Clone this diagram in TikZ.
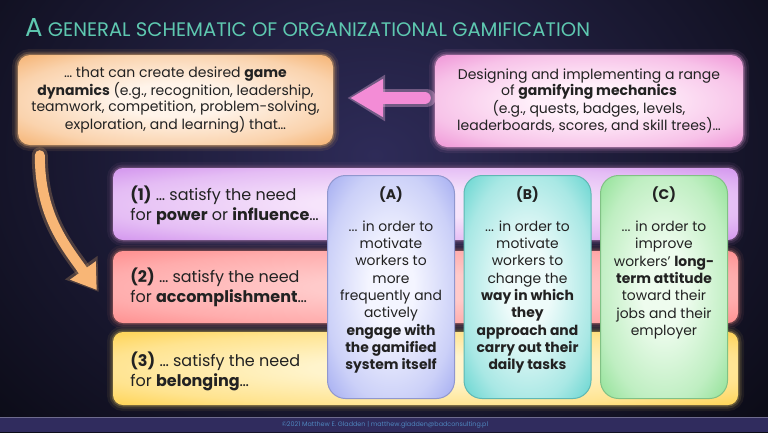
\documentclass[tikz,border=0pt]{standalone}
\usepackage{fontspec}
\setmainfont{Poppins}
\usetikzlibrary{arrows.meta,calc}
\definecolor{bgin}{HTML}{2E2B58}
\definecolor{bgout}{HTML}{0B0B16}
\definecolor{footbg}{HTML}{302C5E}
\definecolor{foottxt}{HTML}{4F86BE}
\definecolor{titlec}{HTML}{5EC8B0}
\definecolor{txt}{HTML}{222222}
\definecolor{orin}{HTML}{FFF4EA}
\definecolor{orout}{HTML}{F6B87C}
\definecolor{orglow}{HTML}{A07A58}
\definecolor{pkin}{HTML}{FFF0FA}
\definecolor{pkout}{HTML}{F19DDA}
\definecolor{pkglow}{HTML}{9A6A98}
\definecolor{pkarrow}{HTML}{F38CD6}
\definecolor{arrorange}{HTML}{F8B676}
\definecolor{puin}{HTML}{F6E4FB}
\definecolor{puout}{HTML}{D69CEF}
\definecolor{puglow}{HTML}{6E4E78}
\definecolor{rdin}{HTML}{FFCACA}
\definecolor{rdout}{HTML}{FF9494}
\definecolor{rdglow}{HTML}{7A4A4E}
\definecolor{ylin}{HTML}{FFF4CC}
\definecolor{ylout}{HTML}{FFD65E}
\definecolor{ylglow}{HTML}{7A6A40}
\definecolor{ain}{HTML}{F4F5FF}
\definecolor{aout}{HTML}{AAB2F2}
\definecolor{bin}{HTML}{EEFBFA}
\definecolor{bout}{HTML}{70D8D3}
\definecolor{cin}{HTML}{EEFCEE}
\definecolor{cout}{HTML}{98E39D}
\colorlet{sin}{white}
\colorlet{sout}{gray}
\pgfdeclareradialshading[sin,sout]{softrad}{\pgfpoint{0bp}{0bp}}{color(0bp)=(sin); color(9bp)=(sin); color(26bp)=(sin!45!sout); color(34bp)=(sout); color(50bp)=(sout)}
\tikzset{
  soft/.style 2 args={/utils/exec={\colorlet{sin}{#1}\colorlet{sout}{#2}}, shading=softrad},
  glow/.style={preaction={draw=#1, line width=12pt, opacity=.15},
               preaction={draw=#1, line width=7pt, opacity=.3},
               preaction={draw=#1, line width=3pt, opacity=.7}},
  topbox/.style={rounded corners=12pt, inner sep=0pt},
  band/.style={rounded corners=10pt, inner sep=0pt, minimum width=625pt, minimum height=72pt},
  column/.style={rounded corners=18pt, inner sep=0pt, minimum width=127pt, minimum height=223pt, draw=#1, line width=1pt},
  toptext/.style={align=center, text=txt, font=\fontsize{14}{14.4}\selectfont},
  bandtext/.style={align=left, text=txt, anchor=west, font=\fontsize{16}{20}\selectfont},
  coltext/.style={align=center, text=txt, font=\fontsize{13.9}{17.3}\selectfont},
  collabel/.style={text=txt, font=\fontsize{14}{15}\selectfont\bfseries},
}
\begin{document}
\begin{tikzpicture}[x=1pt,y=-1pt]
\useasboundingbox (0,0) rectangle (768,432);
\shade[inner color=bgin, outer color=bgout] (-150,-250) rectangle (900,560);
\fill[footbg] (0,417) rectangle (768,432);
\draw[footbg!70!white, line width=0.6pt] (0,417) -- (768,417);
\node[anchor=center, text=foottxt, font=\fontsize{6.4}{7}\selectfont] (footer) at (385,425) {©2021 Matthew E. Gladden | matthew.gladden@badconsulting.pl};

% title
\node[anchor=base west, text=titlec, inner sep=0pt] (title) at (25,36)
  {\fontsize{26}{28}\selectfont A\fontsize{19.6}{22}\selectfont\ GENERAL SCHEMATIC OF ORGANIZATIONAL GAMIFICATION};

% top boxes
\node[topbox, glow=orglow, soft={orin}{orout}, minimum width=315pt, minimum height=90pt] (orange) at (175.5,100) {};
\node[toptext] (orangetxt) at (orange.center) {… that can create desired \textbf{game}\\\textbf{dynamics} (e.g., recognition, leadership,\\teamwork, competition, problem-solving,\\exploration, and learning) that…};

\node[topbox, glow=pkglow, soft={pkin}{pkout}, minimum width=308pt, minimum height=92pt] (pink) at (589,101) {};
\node[toptext] (pinktxt) at (pink.center) {Designing and implementing a range\\of \textbf{gamifying mechanics}\\(e.g., quests, badges, levels,\\leaderboards, scores, and skill trees)…};

% pink arrow
\coordinate (pa1) at ($(pink.west)+(-10,-3)$);
\coordinate (pa2) at ($(orange.east)+(17,-2)$);
\draw[pkarrow!60!white, opacity=.35, line width=18pt, line cap=round, -{Triangle[width=44pt,length=38pt]}] ($(pa1)+(2,0)$) -- ($(pa2)+(-3,0)$);
\draw[pkarrow, line width=12pt, line cap=round, -{Triangle[width=36pt,length=33pt]}] (pa1) -- (pa2);

% bands
\node[band, glow=puglow, soft={puin}{puout}] (band1) at (425.5,204) {};
\node[band, glow=rdglow, soft={rdin}{rdout}] (band2) at (425.5,287) {};
\node[band, glow=ylglow, soft={ylin}{ylout}, minimum height=73pt] (band3) at (425.5,368.5) {};
\node[bandtext] (b1txt) at ($(band1.west)+(14,1)$) {\textbf{(1)} … satisfy the need\\for \textbf{power} or \textbf{influence}…};
\node[bandtext] (b2txt) at ($(band2.west)+(14,0)$) {\textbf{(2)} … satisfy the need\\for \textbf{accomplishment}…};
\node[bandtext] (b3txt) at ($(band3.west)+(14,2.5)$) {\textbf{(3)} … satisfy the need\\for \textbf{belonging}…};

% orange curved arrow
\coordinate (ca1) at ($(orange.south west)+(22,10)$);
\coordinate (ca2) at ($(band2.west)+(-16,3)$);
\draw[orglow, opacity=.4, line width=16pt, line cap=round, -{Triangle[width=38pt,length=30pt]}] (ca1) .. controls ($(ca1)+(0,60)$) and ($(ca2)+(-32,-45)$) .. ($(ca2)+(2,2)$);
\draw[arrorange, line width=10pt, line cap=round, -{Triangle[width=30pt,length=24pt]}] (ca1) .. controls ($(ca1)+(0,60)$) and ($(ca2)+(-32,-45)$) .. (ca2);

% columns
\node[column=aout!85!black, soft={ain}{aout}] (colA) at (391,287) {};
\node[column=bout!85!black, soft={bin}{bout}] (colB) at (527.5,287) {};
\node[column=cout!85!black, soft={cin}{cout}] (colC) at (664,287) {};

\node[collabel] (labA) at ($(colA.north)+(0,20)$) {(A)};
\node[collabel] (labB) at ($(colB.north)+(0,20)$) {(B)};
\node[collabel] (labC) at ($(colC.north)+(0,20)$) {(C)};

\node[coltext] (txtA) at (391,297) {... in order to\\motivate\\workers to\\more\\frequently and\\actively\\\textbf{engage with}\\\textbf{the gamified}\\\textbf{system itself}};
\node[coltext] (txtB) at (527.5,297) {... in order to\\motivate\\workers to\\change the\\\textbf{way in which}\\\textbf{they}\\\textbf{approach and}\\\textbf{carry out their}\\\textbf{daily tasks}};
\node[coltext] (txtC) at (664,280) {... in order to\\improve\\workers’ \textbf{long-}\\\textbf{term attitude}\\toward their\\jobs and their\\employer};
\end{tikzpicture}
\end{document}
